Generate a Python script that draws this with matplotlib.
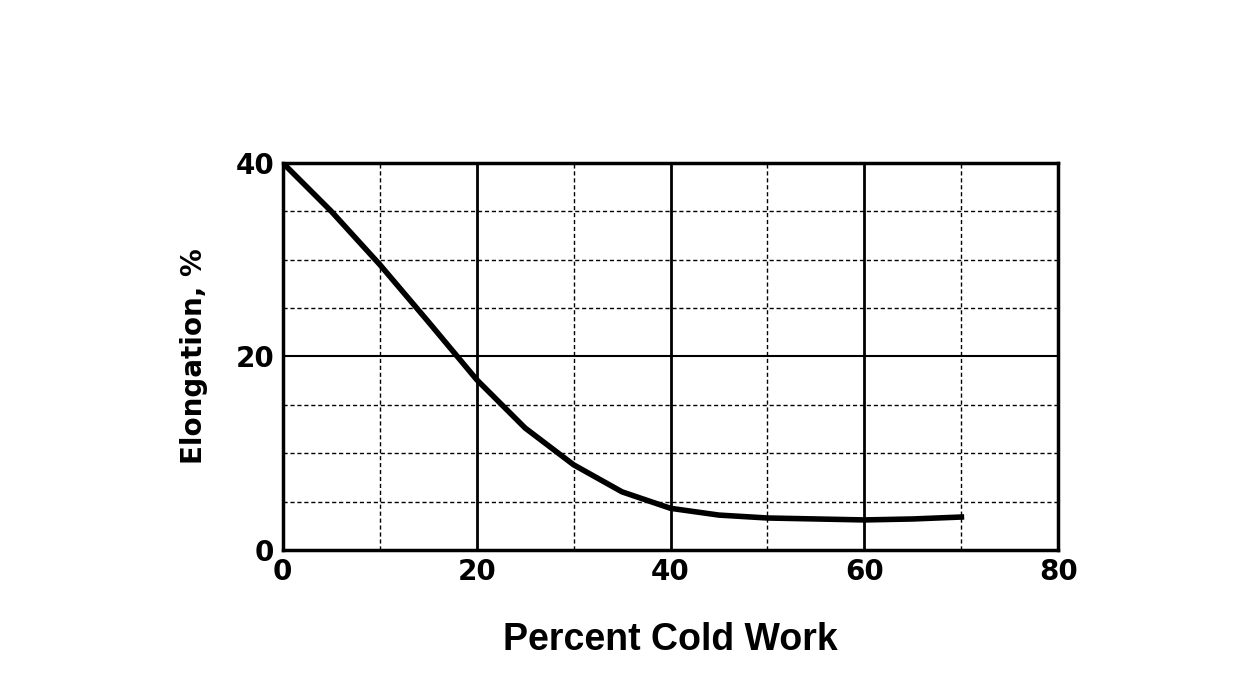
import matplotlib
matplotlib.use("Agg")
import matplotlib.pyplot as plt
import numpy as np

cold_work = [0, 5, 10, 15, 20, 25, 30, 35, 40, 45, 50, 55, 60, 65, 70]
elongation = [40, 35, 29.5, 23.6, 17.6, 12.6, 8.8, 6.0, 4.3, 3.6, 3.3, 3.2, 3.1, 3.2, 3.4]
x_ticks = [0, 20, 40, 60, 80]
y_ticks = [0, 20, 40]

fig = plt.figure(figsize=(12.51, 6.9), dpi=100)
ax = fig.add_axes([0.226, 0.203, 0.62, 0.561])
ax.set_xlim(0, 80)
ax.set_ylim(0, 40)

for xv in np.arange(10, 80, 20):
    ax.axvline(xv, color="black", lw=1, ls=(0, (3, 2)))
for yv in np.arange(5, 40, 5):
    if yv % 20:
        ax.axhline(yv, color="black", lw=1, ls=(0, (3, 2)))
for xv in [20, 40, 60]:
    ax.axvline(xv, color="black", lw=2)
ax.axhline(20, color="black", lw=1.5)

ax.plot(cold_work, elongation, color="black", lw=4, solid_joinstyle="round")

for s in ax.spines.values():
    s.set_linewidth(2.5)
ax.set_xticks(x_ticks)
ax.set_yticks(y_ticks)
ax.tick_params(length=0, labelsize=20, pad=6)
for lbl in ax.get_xticklabels() + ax.get_yticklabels():
    lbl.set_fontweight("bold")
    lbl.set_family("Liberation Sans Narrow")
ax.set_ylabel("Elongation, %", fontsize=20, fontweight="bold", labelpad=20)
ax.set_xlabel("Percent Cold Work", fontsize=27, fontweight="bold",
              family="Liberation Sans", labelpad=26)
fig.savefig("out.png", dpi=100)
